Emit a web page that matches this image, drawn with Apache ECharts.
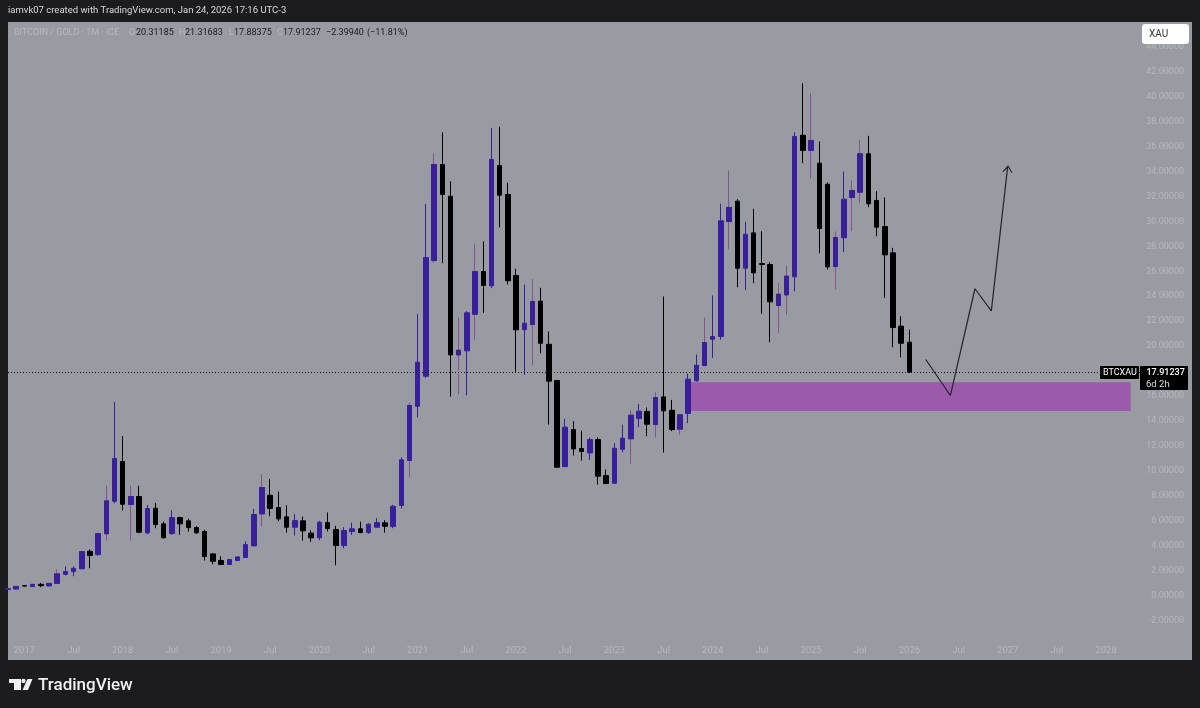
<!DOCTYPE html>
<html>
<head>
  <meta charset="UTF-8">
  <title>BTCXAU</title>
  <script src="https://cdn.jsdelivr.net/npm/echarts@6/dist/echarts.min.js"></script>
  <style>
    html, body { margin: 0; background: #1c1c1e; }
    #main { width: 1200px; height: 708px; }
  </style>
</head>
<body>
<div id="main"></div>
<script type="text/javascript">
  // monthly candles, Nov 2016 to Jan 2026, the rest of the axis is empty future months
  var monthLabels = [
    '', '',
    '2017', '', '', '', '', '', 'Jul', '', '', '', '', '',
    '2018', '', '', '', '', '', 'Jul', '', '', '', '', '',
    '2019', '', '', '', '', '', 'Jul', '', '', '', '', '',
    '2020', '', '', '', '', '', 'Jul', '', '', '', '', '',
    '2021', '', '', '', '', '', 'Jul', '', '', '', '', '',
    '2022', '', '', '', '', '', 'Jul', '', '', '', '', '',
    '2023', '', '', '', '', '', 'Jul', '', '', '', '', '',
    '2024', '', '', '', '', '', 'Jul', '', '', '', '', '',
    '2025', '', '', '', '', '', 'Jul', '', '', '', '', '',
    '2026', '', '', '', '', '', 'Jul', '', '', '', '', '',
    '2027', '', '', '', '', '', 'Jul', '', '', '', '', '',
    '2028', '', '', '', '', '', '', '', '', '', ''
  ];
  var opens = [
    0.48, 0.52, 0.80, 0.72, 0.90, 0.77, 0.98, 1.70, 1.92, 2.15, 3.55, 3.28,
    4.95, 7.56, 10.75, 7.30, 7.94, 5.03, 7.00, 5.75, 4.97, 6.25, 5.99, 5.45,
    5.13, 3.34, 2.81, 2.49, 2.81, 3.05, 3.98, 6.55, 8.04, 7.06, 6.31, 5.48,
    5.99, 5.00, 4.63, 5.85, 5.29, 4.01, 5.13, 5.35, 5.05, 5.48, 5.83, 5.53,
    7.22, 10.83, 15.18, 17.59, 26.86, 34.56, 32.02, 19.30, 19.62, 22.56, 25.98, 24.84,
    34.48, 32.16, 25.66, 21.31, 21.73, 23.60, 20.15, 17.24, 10.34, 13.31, 11.79, 11.44,
    12.51, 9.62, 9.00, 11.73, 12.57, 14.19, 14.76, 13.71, 15.93, 14.86, 13.34, 14.60,
    17.22, 18.44, 20.55, 20.77, 29.99, 31.62, 26.25, 29.08, 26.62, 26.54, 23.26, 24.11,
    25.56, 36.91, 35.69, 34.67, 32.98, 26.38, 28.68, 31.92, 32.34, 35.42, 31.68, 29.59,
    27.48, 21.60, 20.31185
  ];
  var closes = [
    0.55, 0.73, 0.76, 0.90, 0.79, 0.98, 1.74, 1.92, 2.19, 3.53, 3.21, 4.97,
    7.59, 10.99, 7.32, 7.94, 5.08, 6.98, 5.69, 4.63, 6.25, 5.75, 5.45, 5.03,
    3.13, 2.75, 2.49, 2.89, 3.10, 4.09, 6.50, 8.66, 6.98, 6.15, 5.48, 6.01,
    5.19, 4.63, 5.88, 5.37, 4.01, 5.21, 5.35, 5.05, 5.72, 5.85, 5.56, 7.16,
    10.88, 15.24, 18.71, 27.10, 34.56, 32.16, 19.30, 19.67, 22.67, 25.98, 24.86, 34.96,
    32.10, 25.24, 21.31, 21.84, 23.58, 20.23, 17.19, 10.29, 13.50, 11.76, 11.55, 12.51,
    9.57, 8.98, 11.81, 12.62, 14.46, 14.78, 13.74, 15.88, 14.81, 13.31, 14.49, 17.35,
    18.47, 20.29, 20.77, 30.05, 31.12, 26.25, 28.97, 25.88, 26.55, 23.55, 24.16, 25.61,
    36.81, 35.69, 36.49, 29.43, 26.36, 28.71, 31.78, 32.48, 35.42, 31.41, 29.54, 27.32,
    21.49, 20.23, 17.91237
  ];
  var lows = [
    0.47, 0.50, 0.70, 0.70, 0.68, 0.75, 0.95, 1.62, 1.55, 2.10, 2.19, 3.20,
    4.41, 7.40, 6.82, 4.41, 5.00, 4.92, 5.40, 4.57, 4.87, 4.87, 5.13, 4.95,
    2.81, 2.51, 2.45, 2.47, 2.79, 3.03, 3.96, 5.53, 6.36, 5.96, 5.05, 4.81,
    4.41, 4.31, 4.44, 5.13, 2.43, 3.79, 4.87, 5.00, 4.95, 5.45, 5.05, 5.40,
    6.98, 9.49, 14.30, 17.46, 26.70, 26.65, 15.96, 16.17, 16.06, 20.53, 22.67, 24.65,
    29.51, 24.94, 17.94, 17.70, 18.47, 19.43, 13.71, 10.26, 10.30, 11.23, 10.83, 10.88,
    8.90, 8.96, 8.98, 11.49, 10.56, 13.50, 12.77, 12.69, 11.47, 13.18, 12.91, 13.82,
    17.14, 18.40, 19.06, 20.51, 27.75, 24.72, 24.51, 25.05, 22.59, 20.31, 21.07, 22.48,
    24.40, 34.67, 33.44, 27.45, 26.14, 24.56, 27.53, 29.21, 31.46, 31.14, 28.81, 23.87,
    19.91, 19.11, 17.88375
  ];
  var highs = [
    0.56, 0.75, 0.85, 0.92, 1.00, 0.99, 2.11, 2.33, 2.33, 3.56, 3.69, 5.00,
    8.80, 15.53, 12.80, 8.80, 8.80, 7.27, 7.43, 5.93, 6.84, 6.33, 6.17, 5.56,
    5.27, 3.40, 3.15, 2.91, 3.12, 4.35, 6.95, 9.76, 9.36, 8.34, 7.24, 6.55,
    6.33, 5.24, 5.99, 6.66, 5.59, 5.48, 5.85, 5.93, 5.80, 6.23, 6.04, 7.27,
    11.09, 15.48, 22.59, 31.41, 35.47, 37.15, 33.22, 22.27, 22.80, 28.23, 28.39, 37.50,
    37.60, 33.10, 26.20, 24.94, 25.37, 24.68, 21.17, 17.30, 14.17, 13.98, 13.23, 12.67,
    12.67, 10.10, 12.21, 13.71, 14.89, 15.37, 15.08, 16.30, 23.98, 15.69, 14.57, 17.80,
    19.33, 22.29, 24.06, 31.41, 34.08, 31.78, 29.97, 31.01, 29.21, 26.73, 25.05, 26.46,
    37.15, 41.08, 40.28, 36.41, 33.14, 29.19, 34.00, 33.28, 36.54, 36.86, 32.42, 31.92,
    27.88, 22.40, 21.31683
  ];
  // candles whose wick is the washed out purple instead of the body colour
  var purpleWicks = [6, 12, 15, 31, 49, 52, 55, 57, 64, 76, 79, 82, 85, 88, 94, 95, 98, 101, 103, 104];
  var yTickStep = 2;
  var lastPrice = 17.91237;
  var zoneBand = [14.8, 17.1];
  var zoneMonths = [83, 137];
  var pathMonths = [112, 115, 118, 120, 122];
  var pathValues = [18.93, 16.04, 24.6, 22.83, 34.43];
  var headerValues = ['20.31185', '21.31683', '17.88375', '17.91237', '\u22122.39940', '(\u221211.81%)'];
  var headerValueX = [136, 185, 234, 283, 326, 367];
  var headerLetters = ['O', 'H', 'L', 'C'];
  var headerLetterX = [129, 179, 229, 277];

  var up = '#3a1f9c', down = '#000000', purple = '#87508f';
  var faint = '#b5b8be';
  var uiFont = 'Roboto, sans-serif';

  var candles = opens.map(function (o, i) {
    var item = { value: [o, closes[i], lows[i], highs[i]] };
    if (purpleWicks.indexOf(i) >= 0) {
      item.itemStyle = { borderColor: purple, borderColor0: purple };
    }
    return item;
  });
  // clean body drawn over the candles with a purple wick, so the outline stays body coloured
  var purpleBodies = opens.map(function (o, i) {
    if (purpleWicks.indexOf(i) < 0) return ['-', '-', '-', '-'];
    return [o, closes[i], o, closes[i]];
  });

  var pathData = monthLabels.map(function () { return null; });
  pathMonths.forEach(function (m, i) { pathData[m] = pathValues[i]; });

  var tipMonth = pathMonths[pathMonths.length - 1];

  var overlay = [
    { type: 'rect', z: -10, silent: true, shape: { x: 8, y: 22, width: 1184, height: 638 }, style: { fill: '#999ba3' } },
    { type: 'text', z: 50, x: 14, y: 28, style: { text: 'BITCOIN / GOLD \u00b7 1M \u00b7 ICE', fill: faint, font: '9px ' + uiFont } },
    // TradingView mark
    { type: 'polygon', z: 50, shape: { points: [[9, 679], [21, 679], [21, 690], [14, 690], [14, 683], [9, 683]] }, style: { fill: '#f0f0f0' } },
    { type: 'circle', z: 50, shape: { cx: 23.5, cy: 681, r: 2.2 }, style: { fill: '#f0f0f0' } },
    { type: 'polygon', z: 50, shape: { points: [[27.5, 679], [32.5, 679], [28, 690], [22.5, 690]] }, style: { fill: '#f0f0f0' } },
    { type: 'text', z: 50, x: 38, y: 677, style: { text: 'TradingView', fill: '#f0f0f0', font: '500 17px ' + uiFont } },
    // symbol search box
    { type: 'rect', z: 50, shape: { x: 1142, y: 24, width: 47, height: 20, r: 3 }, style: { fill: '#ffffff' } },
    { type: 'text', z: 51, x: 1149, y: 29, style: { text: 'XAU', fill: '#333333', font: '10px ' + uiFont } },
    // last price tags
    { type: 'rect', z: 50, shape: { x: 1100, y: 366, width: 39, height: 13, r: 1 }, style: { fill: '#000000' } },
    { type: 'text', z: 51, x: 1103, y: 368, style: { text: 'BTCXAU', fill: '#ffffff', font: '9px ' + uiFont } },
    { type: 'rect', z: 50, shape: { x: 1140, y: 366, width: 48, height: 24, r: 1 }, style: { fill: '#000000' } },
    { type: 'text', z: 51, x: 1146.5, y: 368, style: { text: '17.91237', fill: '#ffffff', font: '500 9px ' + uiFont } },
    { type: 'text', z: 51, x: 1146, y: 379.5, style: { text: '6d 2h', fill: '#dddddd', font: '9.5px ' + uiFont } }
  ];
  headerLetters.forEach(function (t, i) {
    overlay.push({ type: 'text', z: 50, x: headerLetterX[i], y: 28, style: { text: t, fill: faint, font: '9px ' + uiFont } });
  });
  headerValues.forEach(function (t, i) {
    overlay.push({ type: 'text', z: 50, x: headerValueX[i], y: 28, style: { text: t, fill: '#1a1a1f', font: '9px ' + uiFont } });
  });

  var myChart = echarts.init(document.getElementById('main'));
  myChart.setOption({
    animation: false,
    backgroundColor: '#1c1c1e',
    title: {
      text: 'iamvk07 created with TradingView.com, Jan 24, 2026 17:16 UTC-3',
      left: 8,
      top: 6,
      padding: 0,
      textStyle: { color: '#d8d8d8', fontSize: 9.5, fontWeight: 'normal', fontFamily: uiFont }
    },
    graphic: { elements: overlay },
    grid: { left: 8, width: 1180, top: 46.8, height: 573.7 },
    xAxis: {
      type: 'category',
      data: monthLabels,
      boundaryGap: false,
      axisLine: { show: false },
      axisTick: { show: false },
      splitLine: { show: false },
      axisLabel: {
        color: faint,
        fontSize: 9.5,
        fontFamily: uiFont,
        margin: 25,
        interval: function (index, value) { return value !== ''; }
      }
    },
    yAxis: {
      type: 'value',
      position: 'right',
      min: -2,
      max: 44,
      interval: yTickStep,
      axisLine: { show: false },
      axisTick: { show: false },
      splitLine: { show: false },
      axisLabel: {
        inside: true,
        margin: 4,
        color: faint,
        fontSize: 9,
        fontFamily: uiFont,
        padding: [1, 0, 0, 0],
        formatter: function (v) { return v.toFixed(5); }
      }
    },
    series: [
      {
        name: 'BTCXAU',
        type: 'candlestick',
        barWidth: 5,
        data: candles,
        itemStyle: {
          color: up,
          color0: down,
          borderColor: up,
          borderColor0: down,
          borderColorDoji: down,
          borderWidth: 1
        },
        markArea: {
          silent: true,
          itemStyle: { color: '#9b5aab' },
          data: [[
            { xAxis: zoneMonths[0], yAxis: zoneBand[1] },
            { xAxis: zoneMonths[1], yAxis: zoneBand[0] }
          ]]
        },
        markLine: {
          silent: true,
          symbol: 'none',
          label: { show: false },
          lineStyle: { color: '#111111', type: [1, 2], width: 1 },
          data: [{ yAxis: lastPrice }]
        }
      },
      {
        name: 'bodies',
        type: 'candlestick',
        barWidth: 5,
        data: purpleBodies,
        itemStyle: { color: up, color0: up, borderColor: up, borderColor0: up, borderWidth: 1 }
      },
      {
        name: 'path',
        type: 'line',
        data: pathData,
        connectNulls: true,
        z: 5,
        lineStyle: { color: '#23232a', width: 1.2 },
        showSymbol: true,
        symbol: function (v, params) {
          return params.dataIndex === tipMonth ? 'path://M0 7L5 0L10 7' : 'none';
        },
        symbolSize: [9, 6],
        symbolRotate: -6,
        symbolOffset: [0, 3],
        itemStyle: { color: 'none', borderColor: '#23232a', borderWidth: 1 }
      }
    ]
  });
</script>
</body>
</html>
